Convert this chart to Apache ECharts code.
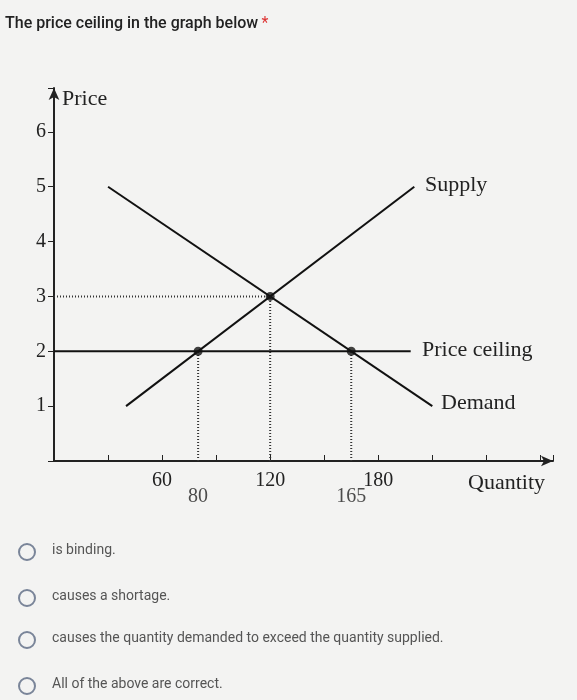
<!DOCTYPE html>
<html>
<head>
<meta charset="utf-8">
<script src="https://cdn.jsdelivr.net/npm/echarts@6/dist/echarts.min.js"></script>
<style>
  html, body { margin: 0; padding: 0; background: #f3f3f2; }
  #chart { width: 577px; height: 700px; }
</style>
</head>
<body>
<div id="chart"></div>
<script>
// data
const supplyLine = [[40, 1], [200, 5]];
const demandLine = [[30, 5], [210, 1]];
const ceilingLine = [[0, 2], [198, 2]];
const dottedH = [[0, 3], [120, 3]];
const dottedVs = [[[80, 0], [80, 2]], [[120, 0], [120, 3]], [[165, 0], [165, 2]]];
const dots = [[80, 2], [120, 3], [165, 2]];
const xTopLabels = [60, 120, 180];
const xLowLabels = [80, 165];
const options = ['is binding.', 'causes a shortage.', 'causes the quantity demanded to exceed the quantity supplied.', 'All of the above are correct.'];
const optionY = [552, 598, 640, 686];

const serif = 'Liberation Serif';
const dotted = { type: 'line', symbol: 'none', silent: true,
  lineStyle: { color: '#333', width: 2, type: [1, 2] } };

let chart = echarts.init(document.getElementById('chart'));
const series = [
  { type: 'line', data: supplyLine, symbol: 'none', lineStyle: { color: '#111', width: 2 } },
  { type: 'line', data: demandLine, symbol: 'none', lineStyle: { color: '#111', width: 2 } },
  { type: 'line', data: ceilingLine, symbol: 'none', lineStyle: { color: '#111', width: 2 } },
  Object.assign({ data: dottedH }, dotted),
  ...dottedVs.map(d => Object.assign({ data: d }, dotted)),
  { type: 'scatter', data: dots, symbolSize: 9, itemStyle: { color: '#111' }, z: 5 },
  { type: 'scatter', data: xLowLabels.map(v => [v, 0]), symbolSize: 0,
    label: { show: true, position: 'bottom', distance: 26, formatter: p => p.value[0],
      fontFamily: serif, fontSize: 20, color: '#222' } }
];

const graphics = [
  { type: 'text', left: 5, top: 16, style: {
      text: '{t|The price ceiling in the graph below} {s|*}',
      rich: { t: { fontFamily: 'Roboto', fontSize: 16, fontWeight: 500, fill: '#222' },
              s: { fontFamily: 'Roboto', fontSize: 16, fill: '#d33', verticalAlign: 'top' } } } },
  { type: 'text', left: 62, top: 88, style: { text: 'Price', fontFamily: serif, fontSize: 22, fill: '#222' } },
  { type: 'text', left: 425, top: 174, style: { text: 'Supply', fontFamily: serif, fontSize: 22, fill: '#222' } },
  { type: 'text', left: 422, top: 339, style: { text: 'Price ceiling', fontFamily: serif, fontSize: 22, fill: '#222' } },
  { type: 'text', left: 441, top: 392, style: { text: 'Demand', fontFamily: serif, fontSize: 22, fill: '#222' } },
  { type: 'text', left: 468, top: 472, style: { text: 'Quantity', fontFamily: serif, fontSize: 22, fill: '#222' } }
];
options.forEach((t, i) => {
  graphics.push({ type: 'circle', shape: { cx: 27, cy: optionY[i], r: 8 },
    style: { fill: 'none', stroke: '#7a8599', lineWidth: 2 } });
  graphics.push({ type: 'text', left: 52, top: optionY[i] - 9,
    style: { text: t, fontFamily: 'Roboto', fontSize: 14, fill: '#555' } });
});

chart.setOption({
  backgroundColor: '#f3f3f2',
  animation: false,
  grid: { left: 54, right: 24, top: 88, bottom: 239 },
  xAxis: {
    type: 'value', min: 0, max: 277, interval: 30,
    splitLine: { show: false },
    axisLine: { lineStyle: { color: '#222', width: 2 }, symbol: ['none', 'arrow'], symbolSize: [8, 12] },
    axisTick: { show: true, inside: true, length: 6, lineStyle: { color: '#222' } },
    axisLabel: { formatter: v => xTopLabels.includes(v) ? v : '', fontFamily: serif, fontSize: 20, color: '#222', margin: 10 }
  },
  yAxis: {
    type: 'value', min: 0, max: 6.8, interval: 1,
    splitLine: { show: false },
    axisLine: { show: true, lineStyle: { color: '#222', width: 2 }, symbol: ['none', 'arrow'], symbolSize: [8, 12] },
    axisTick: { show: true, length: 6, lineStyle: { color: '#222' } },
    axisLabel: { formatter: v => (v >= 1 && v <= 6 && Number.isInteger(v)) ? v : '', fontFamily: serif, fontSize: 20, color: '#222', margin: 8 }
  },
  series: series,
  graphic: graphics
});
</script>
</body>
</html>
